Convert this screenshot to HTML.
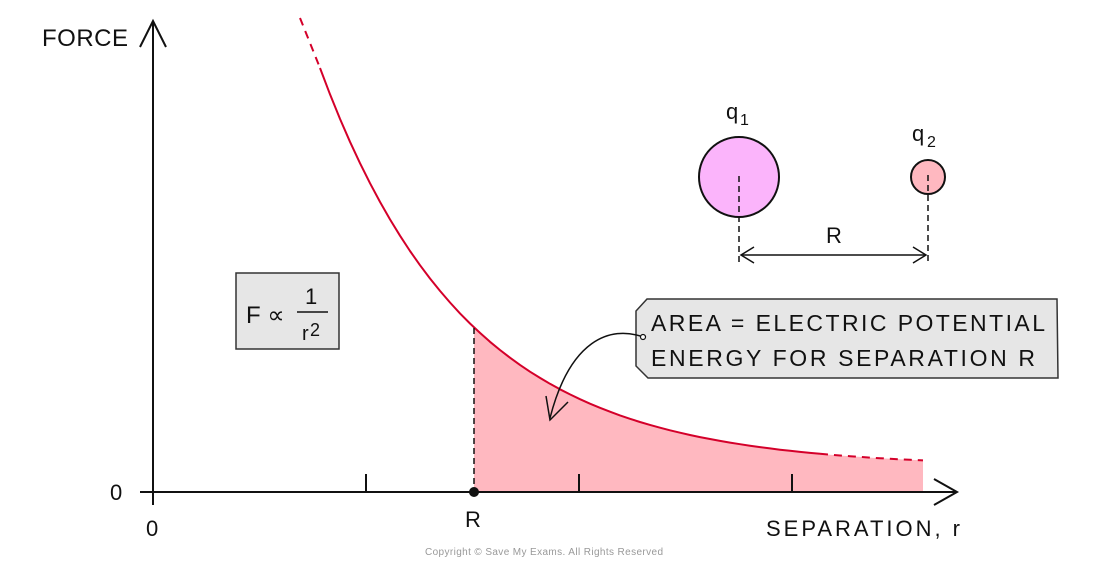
<!DOCTYPE html>
<html><head><style>body{margin:0;background:#fff}svg{display:block}text{font-family:"Liberation Sans",sans-serif;fill:#111}</style></head><body>
<svg width="1100" height="570" viewBox="0 0 1100 570">
<path d="M474,327.5 L480,332.9 490,341.8 500,350 510,357.7 520,364.9 530,371.7 540,377.9 550,383.8 560,389.3 570,394.4 580,399.2 590,403.7 600,407.8 610,411.7 620,415.4 630,418.8 640,422 650,424.9 660,427.7 670,430.3 680,432.7 690,435 700,437.1 710,439 720,440.9 730,442.6 740,444.2 750,445.7 760,447.1 770,448.4 780,449.7 790,450.8 800,451.9 810,452.9 820,453.8 830,454.7 840,455.5 850,456.2 860,456.9 870,457.6 880,458.2 890,458.8 900,459.3 910,459.8 923,460.4 L923,492 L474,492 Z" fill="#ffb8c0"/>
<path d="M300,18 L320,68" stroke="#d4002a" stroke-width="2" fill="none" stroke-dasharray="8,6"/>
<polyline points="320,68 330,94.3 340,118.9 350,141.8 360,163.2 370,183.2 380,201.9 390,219.4 400,235.7 410,251 420,265.2 430,278.5 440,290.9 450,302.5 460,313.4 470,323.5 480,332.9 490,341.8 500,350 510,357.7 520,364.9 530,371.7 540,377.9 550,383.8 560,389.3 570,394.4 580,399.2 590,403.7 600,407.8 610,411.7 620,415.4 630,418.8 640,422 650,424.9 660,427.7 670,430.3 680,432.7 690,435 700,437.1 710,439 720,440.9 730,442.6 740,444.2 750,445.7 760,447.1 770,448.4 780,449.7 790,450.8 800,451.9 810,452.9 820,453.8" stroke="#d4002a" stroke-width="2" fill="none" stroke-linejoin="round"/>
<polyline points="820,453.8 830,454.7 840,455.5 850,456.2 860,456.9 870,457.6 880,458.2 890,458.8 900,459.3 910,459.8 923,460.4" stroke="#d4002a" stroke-width="2" fill="none" stroke-dasharray="8,6"/>
<line x1="474" y1="328" x2="474" y2="492" stroke="#111" stroke-width="1.5" stroke-dasharray="6,4"/>
<g stroke="#111" stroke-width="2" fill="none">
<line x1="153" y1="22" x2="153" y2="505"/>
<polyline points="140,47 153,21 166,47"/>
<line x1="140" y1="492" x2="956" y2="492"/>
<polyline points="934,479 957,492 934,505"/>
<line x1="366" y1="474" x2="366" y2="492"/>
<line x1="579" y1="474" x2="579" y2="492"/>
<line x1="792" y1="474" x2="792" y2="492"/>
</g>
<circle cx="474" cy="492" r="5" fill="#111"/>
<text x="42" y="46" font-size="24" textLength="86">FORCE</text>
<text x="110" y="500" font-size="22">0</text>
<text x="146" y="536" font-size="22">0</text>
<text x="465" y="527" font-size="22">R</text>
<text x="766" y="536" font-size="22" textLength="194">SEPARATION, r</text>
<text x="425" y="555" font-size="10" style="fill:#999" textLength="238">Copyright © Save My Exams. All Rights Reserved</text>
<rect x="236" y="273" width="103" height="76" fill="#e6e6e6" stroke="#333" stroke-width="1.5"/>
<text x="246" y="323" font-size="24">F ∝</text>
<line x1="297" y1="312" x2="328" y2="312" stroke="#111" stroke-width="1.5"/>
<text x="305" y="304" font-size="22">1</text>
<text x="302" y="340" font-size="20">r</text><text x="310" y="336" font-size="18">2</text>
<path d="M647,299 L1057,299 L1058,378 L648,378 L636,366 L636,311 Z" fill="#e6e6e6" stroke="#333" stroke-width="1.5"/>
<text x="651" y="331" font-size="23" textLength="394">AREA = ELECTRIC POTENTIAL</text>
<text x="651" y="366" font-size="23" textLength="384">ENERGY FOR SEPARATION R</text>
<path d="M643,337 C610,325 570,340 550,418" stroke="#111" stroke-width="1.5" fill="none"/>
<circle cx="643" cy="337" r="2.5" fill="#fff" stroke="#111" stroke-width="1.2"/>
<polyline points="546,396 550,420 568,402" stroke="#111" stroke-width="1.5" fill="none"/>
<circle cx="739" cy="177" r="40" fill="#fbb4fb" stroke="#111" stroke-width="2"/>
<circle cx="928" cy="177" r="17" fill="#ffb8c0" stroke="#111" stroke-width="2"/>
<g stroke="#111" stroke-width="1.5" stroke-dasharray="6,4">
<line x1="739" y1="176" x2="739" y2="265"/>
<line x1="928" y1="175" x2="928" y2="265"/>
</g>
<g stroke="#111" stroke-width="1.5" fill="none">
<line x1="741" y1="255" x2="926" y2="255"/>
<polyline points="754,247 741,255 754,263"/>
<polyline points="913,247 926,255 913,263"/>
</g>
<text x="726" y="119" font-size="22">q</text><text x="740" y="125" font-size="16">1</text>
<text x="912" y="141" font-size="22">q</text><text x="927" y="147" font-size="16">2</text>
<text x="826" y="243" font-size="22">R</text>
</svg>
</body></html>
